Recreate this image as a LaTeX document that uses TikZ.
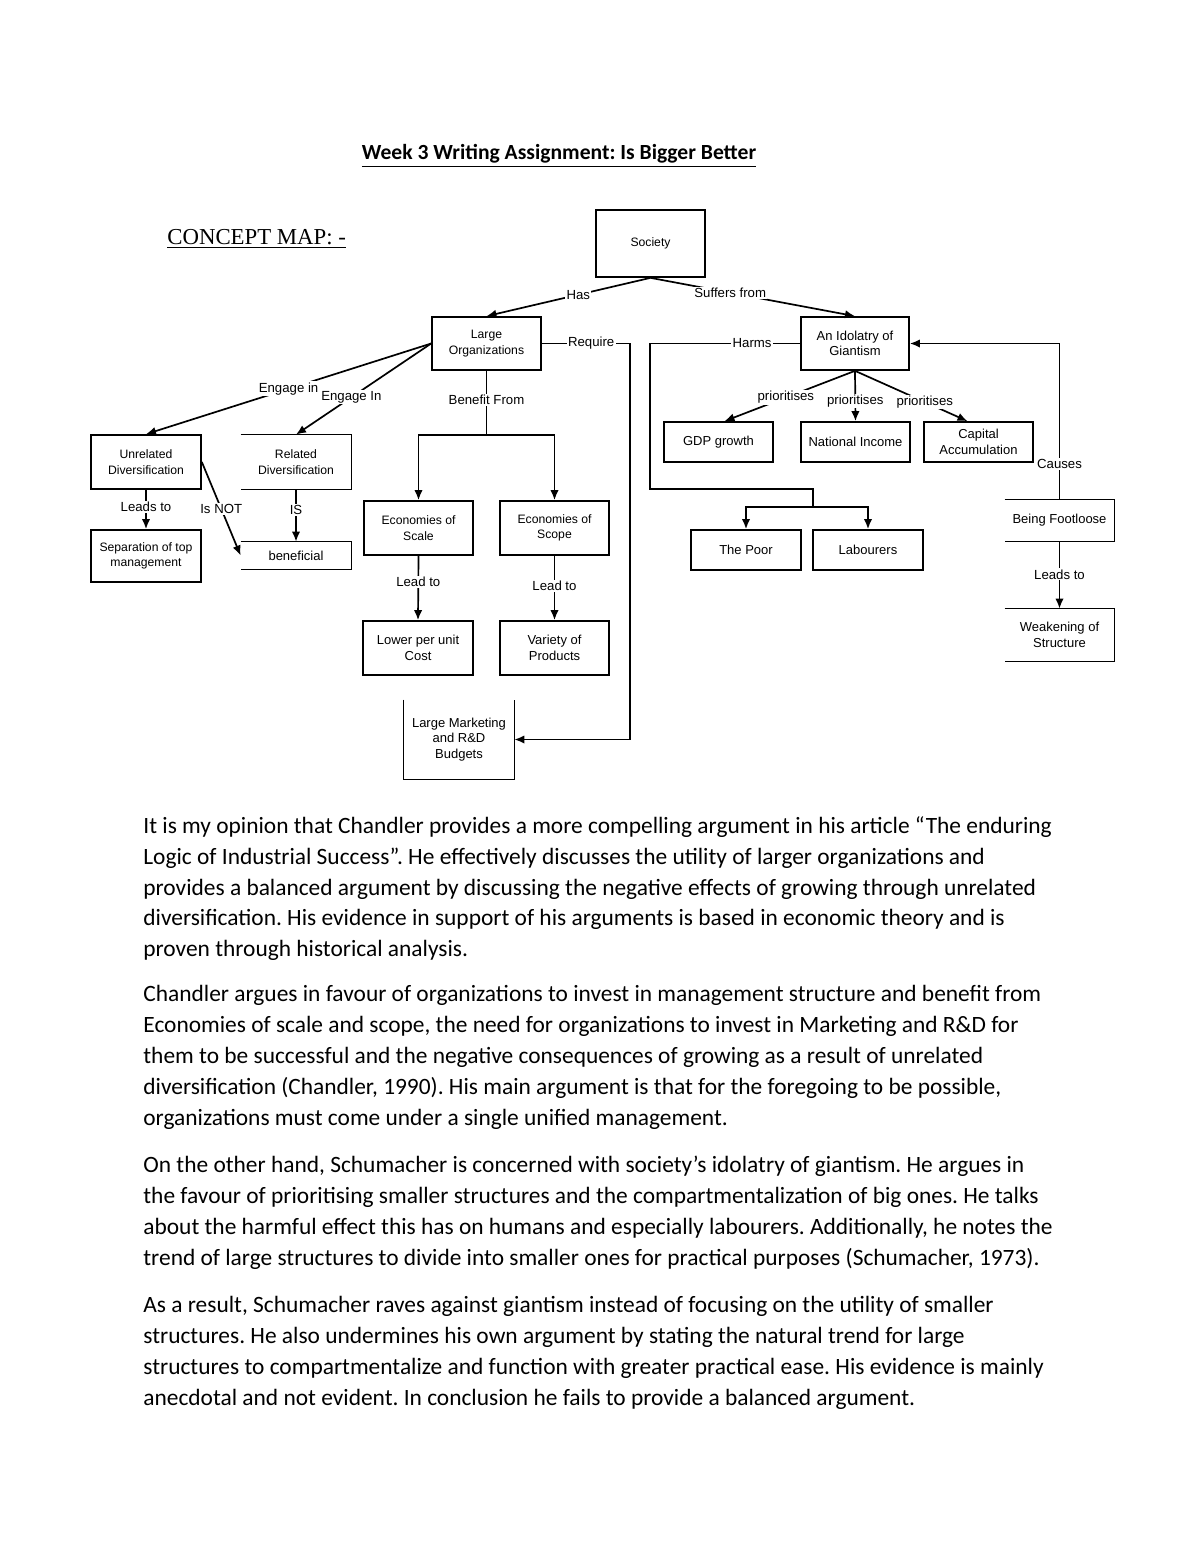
\documentclass[tikz,border=0pt]{standalone}
\usepackage{fontspec}
\setmainfont{Carlito}
\newfontfamily\arialf{Liberation Sans}
\newfontfamily\timesf{Liberation Serif}
\usetikzlibrary{arrows.meta}
\frenchspacing
\begin{document}
\begin{tikzpicture}[x=0.5pt,y=-0.5pt,
  box/.style={draw, line width=0.85pt, inner sep=0pt, align=center, font=\arialf\fontsize{6.5}{7.8}\selectfont},
  openbox/.style={inner sep=0pt, align=center, font=\arialf\fontsize{6.5}{7.8}\selectfont},
  smalltxt/.style={font=\arialf\fontsize{6.1}{7.8}\selectfont},
  conn/.style={line width=0.85pt},
  arr/.style={line width=0.85pt, -{Latex[length=5pt,width=4.2pt]}},
  lbl/.style={fill=white, inner sep=0.6pt, font=\arialf\fontsize{6.6}{7.8}\selectfont},
  para/.style={anchor=north west, inner sep=0pt, align=left, font=\fontsize{11.7}{15.45}\selectfont}
]
\useasboundingbox[fill=white] (0,0) rectangle (1200,1553);

% headings
\node[inner sep=0pt, font=\bfseries\fontsize{10.8}{13}\selectfont] (title) at (559,156) {\underline{Week 3 Writing Assignment: Is Bigger Better}};
\node[inner sep=0pt, anchor=west, font=\timesf\fontsize{11.4}{13}\selectfont] (cmap) at (167,239) {\underline{CONCEPT MAP: -}};

% boxes
\node[box, smalltxt, minimum width=54.5pt, minimum height=33.5pt] (soc) at (650.5,243.5) {Society};
\node[box, smalltxt, minimum width=54.5pt, minimum height=26.5pt] (lorg) at (486.5,343.5) {Large\\Organizations};
\node[box, minimum width=54pt, minimum height=26.5pt] (idol) at (855,343.5) {An Idolatry of\\Giantism};
\node[box, smalltxt, minimum width=55pt, minimum height=27pt] (unr) at (146,462) {Unrelated\\Diversification};
\node[openbox, smalltxt, minimum width=55pt, minimum height=27pt] (rel) at (296,462) {Related\\Diversification};
\node[box, smalltxt, minimum width=55pt, minimum height=26pt] (sep) at (146,556) {Separation of top\\management};
\node[openbox, minimum width=55pt, minimum height=13.5pt] (ben) at (296,555.5) {beneficial};
\node[box, smalltxt, minimum width=54.5pt, minimum height=27pt] (scale) at (418.5,528) {Economies of\\Scale};
\node[box, smalltxt, minimum width=54.5pt, minimum height=27pt] (scope) at (554.5,528) {Economies of\\Scope};
\node[box, minimum width=55pt, minimum height=27pt] (lower) at (418,648) {Lower per unit\\Cost};
\node[box, minimum width=54.5pt, minimum height=27pt] (var) at (554.5,648) {Variety of\\Products};
\node[openbox, minimum width=55pt, minimum height=39.5pt] (mkt) at (459,739.5) {Large Marketing\\and R\&D\\Budgets};
\node[box, minimum width=54.5pt, minimum height=20pt] (gdp) at (718.5,442) {GDP growth};
\node[box, minimum width=54.5pt, minimum height=20pt] (ni) at (855.5,442) {National Income};
\node[box, minimum width=54.5pt, minimum height=20pt] (cap) at (978.5,442) {Capital\\Accumulation};
\node[box, minimum width=55pt, minimum height=20pt] (poor) at (746,550) {The Poor};
\node[box, minimum width=55pt, minimum height=20pt] (lab) at (868,550) {Labourers};
\node[openbox, minimum width=54.5pt, minimum height=20.5pt] (foot) at (1059.5,520.5) {Being Footloose};
\node[openbox, minimum width=54.5pt, minimum height=26pt] (weak) at (1059.5,635) {Weakening of\\Structure};

% partial borders (as printed)
\draw[conn] (rel.north west) -- (rel.north east) -- (rel.south east) -- (rel.south west);
\draw[conn] (ben.north west) -- (ben.north east) -- (ben.south east) -- (ben.south west);
\draw[conn] (foot.north west) -- (foot.north east) -- (foot.south east) -- (foot.south west);
\draw[conn] (weak.north west) -- (weak.north east) -- (weak.south east) -- (weak.south west);
\draw[conn] (mkt.north west) -- (mkt.south west) -- (mkt.south east) -- (mkt.north east);

% connectors
\draw[arr] (soc.south) -- node[lbl, pos=0.44]{Has} (lorg.north);
\draw[arr] (soc.south) -- node[lbl, pos=0.39]{Suffers from} (idol.north);
\draw[arr] (lorg.west) -- node[lbl, pos=0.5]{Engage in} (unr.north);
\draw[arr] (lorg.west) -- node[lbl, pos=0.59]{Engage In} (rel.north);

\coordinate (bf) at (486.5,435);
\draw[conn] (lorg.south) -- node[lbl, pos=0.45]{Benefit From} (bf);
\draw[arr] (bf) -| (scale.north);
\draw[arr] (bf) -| (scope.north);

\coordinate (rq) at (630,343.5);
\draw[arr] (lorg.east) -- node[lbl, pos=0.56]{Require} (rq) |- (mkt.east);

\draw[arr] (unr.south) -- node[lbl, pos=0.44]{Leads to} (sep.north);
\draw[arr] (unr.east) -- node[lbl, pos=0.5]{Is NOT} (ben.west);
\draw[arr] (rel.south) -- node[lbl, pos=0.4]{IS} (ben.north);
\draw[arr] (scale.south) -- node[lbl, pos=0.41]{Lead to} (lower.north);
\draw[arr] (scope.south) -- node[lbl, pos=0.47]{Lead to} (var.north);

\draw[arr] (idol.south) -- node[lbl, pos=0.53]{prioritises} ([xshift=3pt]gdp.north);
\draw[arr] (idol.south) -- node[lbl, pos=0.6]{prioritises} (ni.north);
\draw[arr] (idol.south) -- node[lbl, pos=0.62]{prioritises} ([xshift=-5.5pt]cap.north);

\coordinate (h1) at (650,343.5);
\coordinate (h2) at (650,489);
\coordinate (h3) at (813,489);
\coordinate (hs) at (813,507);
\draw[conn] (idol.west) -- node[lbl, pos=0.32]{Harms} (h1) -- (h2) -- (h3) -- (hs);
\draw[arr] (hs) -| (poor.north);
\draw[arr] (hs) -| (lab.north);

\coordinate (c1) at (1059.5,343.5);
\draw[arr] (foot.north) -- node[lbl, pos=0.23]{Causes} (c1) -- (idol.east);
\draw[arr] (foot.south) -- node[lbl, pos=0.49]{Leads to} (weak.north);

% body text
\node[para] (p1) at (143,816) {It is my opinion that Chandler provides a more compelling argument in his article “The enduring\\
Logic of Industrial Success”. He effectively discusses the utility of larger organizations and\\
provides a balanced argument by discussing the negative effects of growing through unrelated\\
diversification. His evidence in support of his arguments is based in economic theory and is\\
proven through historical analysis.};
\node[para] (p2) at (143,985) {Chandler argues in favour of organizations to invest in management structure and benefit from\\
Economies of scale and scope, the need for organizations to invest in Marketing and R\&D for\\
them to be successful and the negative consequences of growing as a result of unrelated\\
diversification (Chandler, 1990). His main argument is that for the foregoing to be possible,\\
organizations must come under a single unified management.};
\node[para] (p3) at (143,1156) {On the other hand, Schumacher is concerned with society’s idolatry of giantism. He argues in\\
the favour of prioritising smaller structures and the compartmentalization of big ones. He talks\\
about the harmful effect this has on humans and especially labourers. Additionally, he notes the\\
trend of large structures to divide into smaller ones for practical purposes (Schumacher, 1973).};
\node[para] (p4) at (143,1296) {As a result, Schumacher raves against giantism instead of focusing on the utility of smaller\\
structures. He also undermines his own argument by stating the natural trend for large\\
structures to compartmentalize and function with greater practical ease. His evidence is mainly\\
anecdotal and not evident. In conclusion he fails to provide a balanced argument.};
\end{tikzpicture}
\end{document}
